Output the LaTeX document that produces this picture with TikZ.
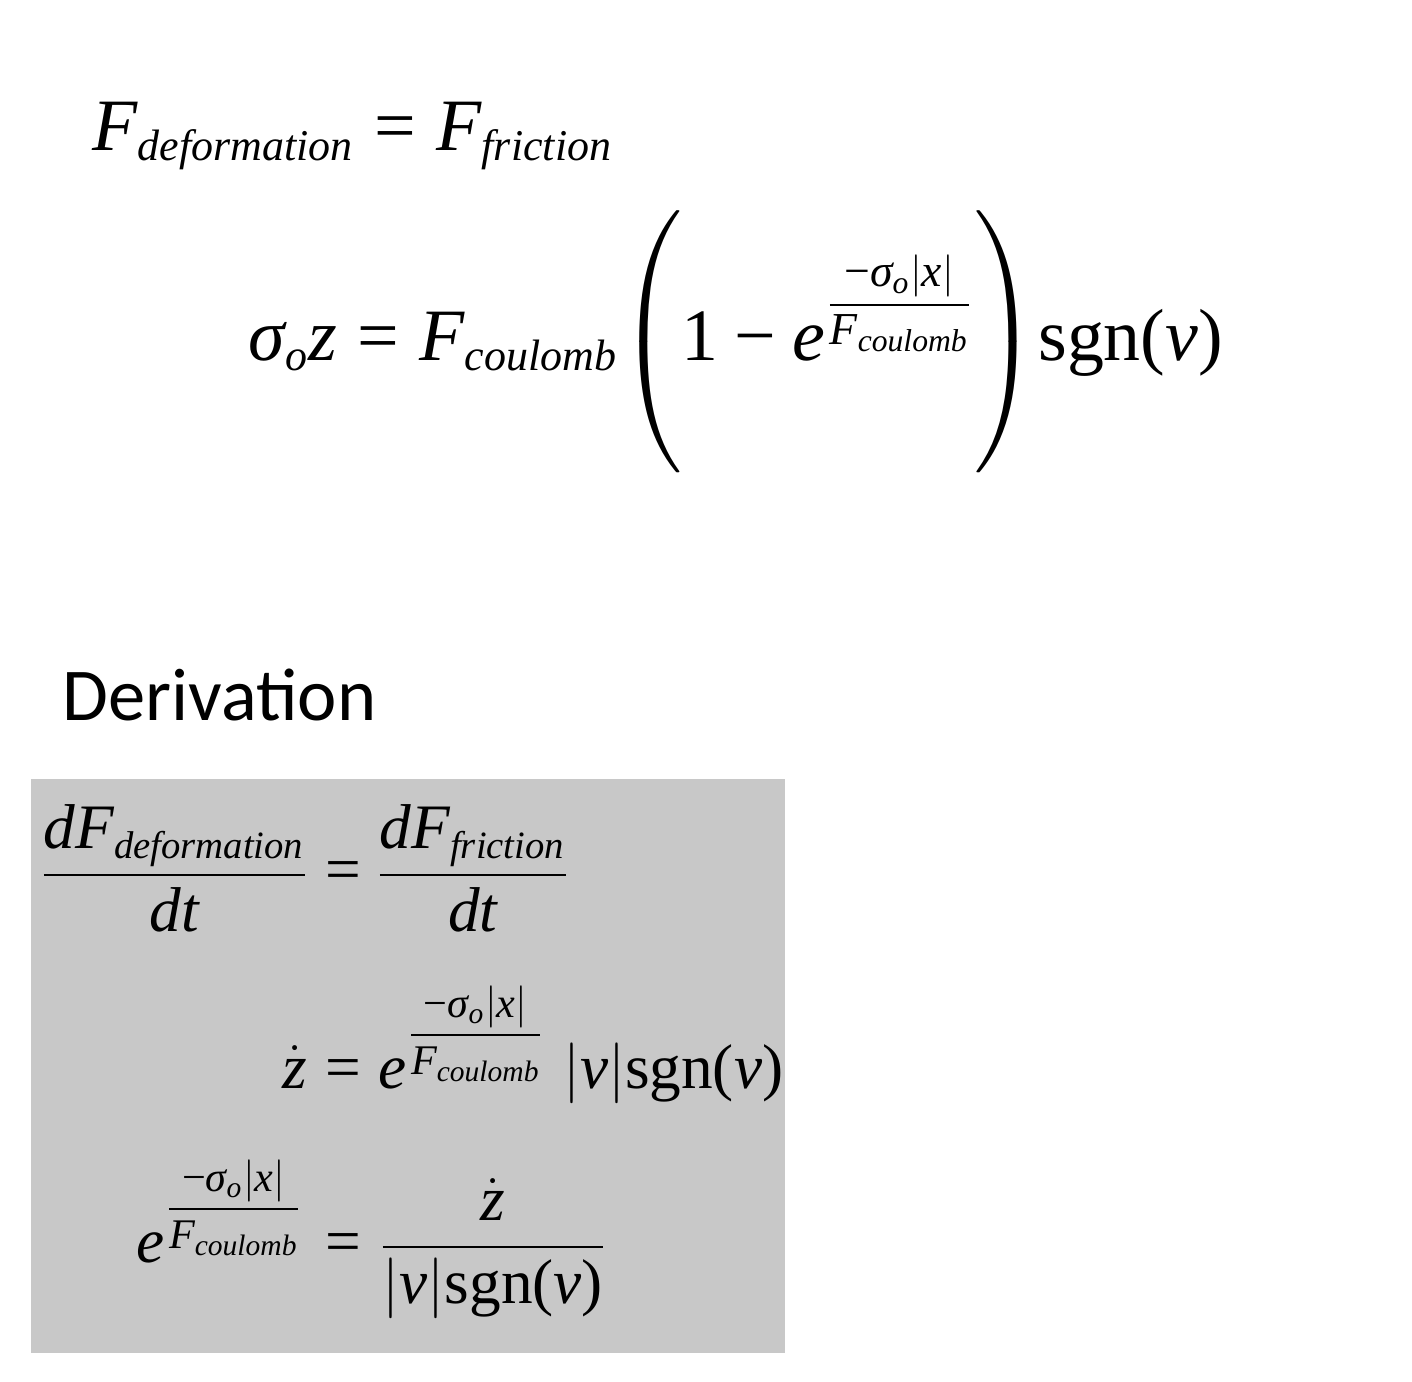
\documentclass[tikz,border=0pt]{standalone}
\usepackage{amsmath}
\usepackage{fontspec}
\setmainfont{Liberation Serif}
\newfontfamily\carlitofont{Carlito}
\DeclareMathSizes{21}{21}{12.5}{10}
\DeclareMathSizes{18}{18}{11}{9}
\DeclareMathSizes{13}{13}{9}{7}
\DeclareMathSizes{12}{12}{8.4}{6}
\newcommand\I[1]{\textit{#1}}
\newcommand\eqs{\mathrel{\text{=}}}
\newcommand\mns{\mathbin{\text{−}}}
\newcommand\sg{\I{σ}}
\newcommand\expo[1]{\mbox{\fontsize{#1}{#1}\selectfont$\displaystyle\frac{\text{−}\sg_{\I{o}}|\I{x}|}{\I{F}_{\I{coulomb}}}$}}
\begin{document}
\begin{tikzpicture}[x=0.01cm,y=-0.01cm,
 big/.style={inner sep=0pt,font=\fontsize{21}{25}\selectfont},
 mid/.style={inner sep=0pt,font=\fontsize{18}{22}\selectfont}]
\useasboundingbox (0,0) rectangle (1412,1381);
\fill[fill={rgb,255:red,200;green,200;blue,200}] (31,779) rectangle (785,1353);
\node[big,anchor=base west] (e1) at (92,150) {$\I{F}_{\I{deformation}}\eqs\I{F}_{\I{friction}}$};
\node[big,anchor=base west] (e2) at (248,360) {$\sg_{\I{o}}\I{z}\eqs\I{F}_{\I{coulomb}}\!\left(\text{1}\mns\I{e}^{\expo{13}}\rule[-1.0cm]{0pt}{2.3cm}\right)\!\text{sgn(}\I{v}\text{)}$};
\node[inner sep=0pt,anchor=base west,font=\carlitofont\fontsize{21.2}{26}\selectfont] (d) at (62,720) {Derivation};
\node[mid,anchor=base east] (l1) at (310,890) {$\dfrac{\I{dF}_{\I{deformation}}}{\I{dt}}$};
\node[mid,anchor=base] (q1) at (343,890) {$\text{=}$};
\node[mid,anchor=base west] (r1) at (375,890) {$\dfrac{\I{dF}_{\I{friction}}}{\I{dt}}$};
\node[mid,anchor=base east] (l2) at (308,1088) {$\dot{\I{z}}$};
\node[mid,anchor=base] (q2) at (343,1088) {$\text{=}$};
\node[mid,anchor=base west] (r2) at (378,1088) {$\I{e}^{\expo{12}}\;|\I{v}|\text{sgn(}\I{v}\text{)}$};
\node[mid,anchor=base east] (l3) at (305,1262) {$\I{e}^{\expo{12}}$};
\node[mid,anchor=base] (q3) at (343,1262) {$\text{=}$};
\node[mid,anchor=base west] (r3) at (378,1262) {$\dfrac{\dot{\I{z}}}{|\I{v}|\text{sgn(}\I{v}\text{)}}$};
\end{tikzpicture}
\end{document}
